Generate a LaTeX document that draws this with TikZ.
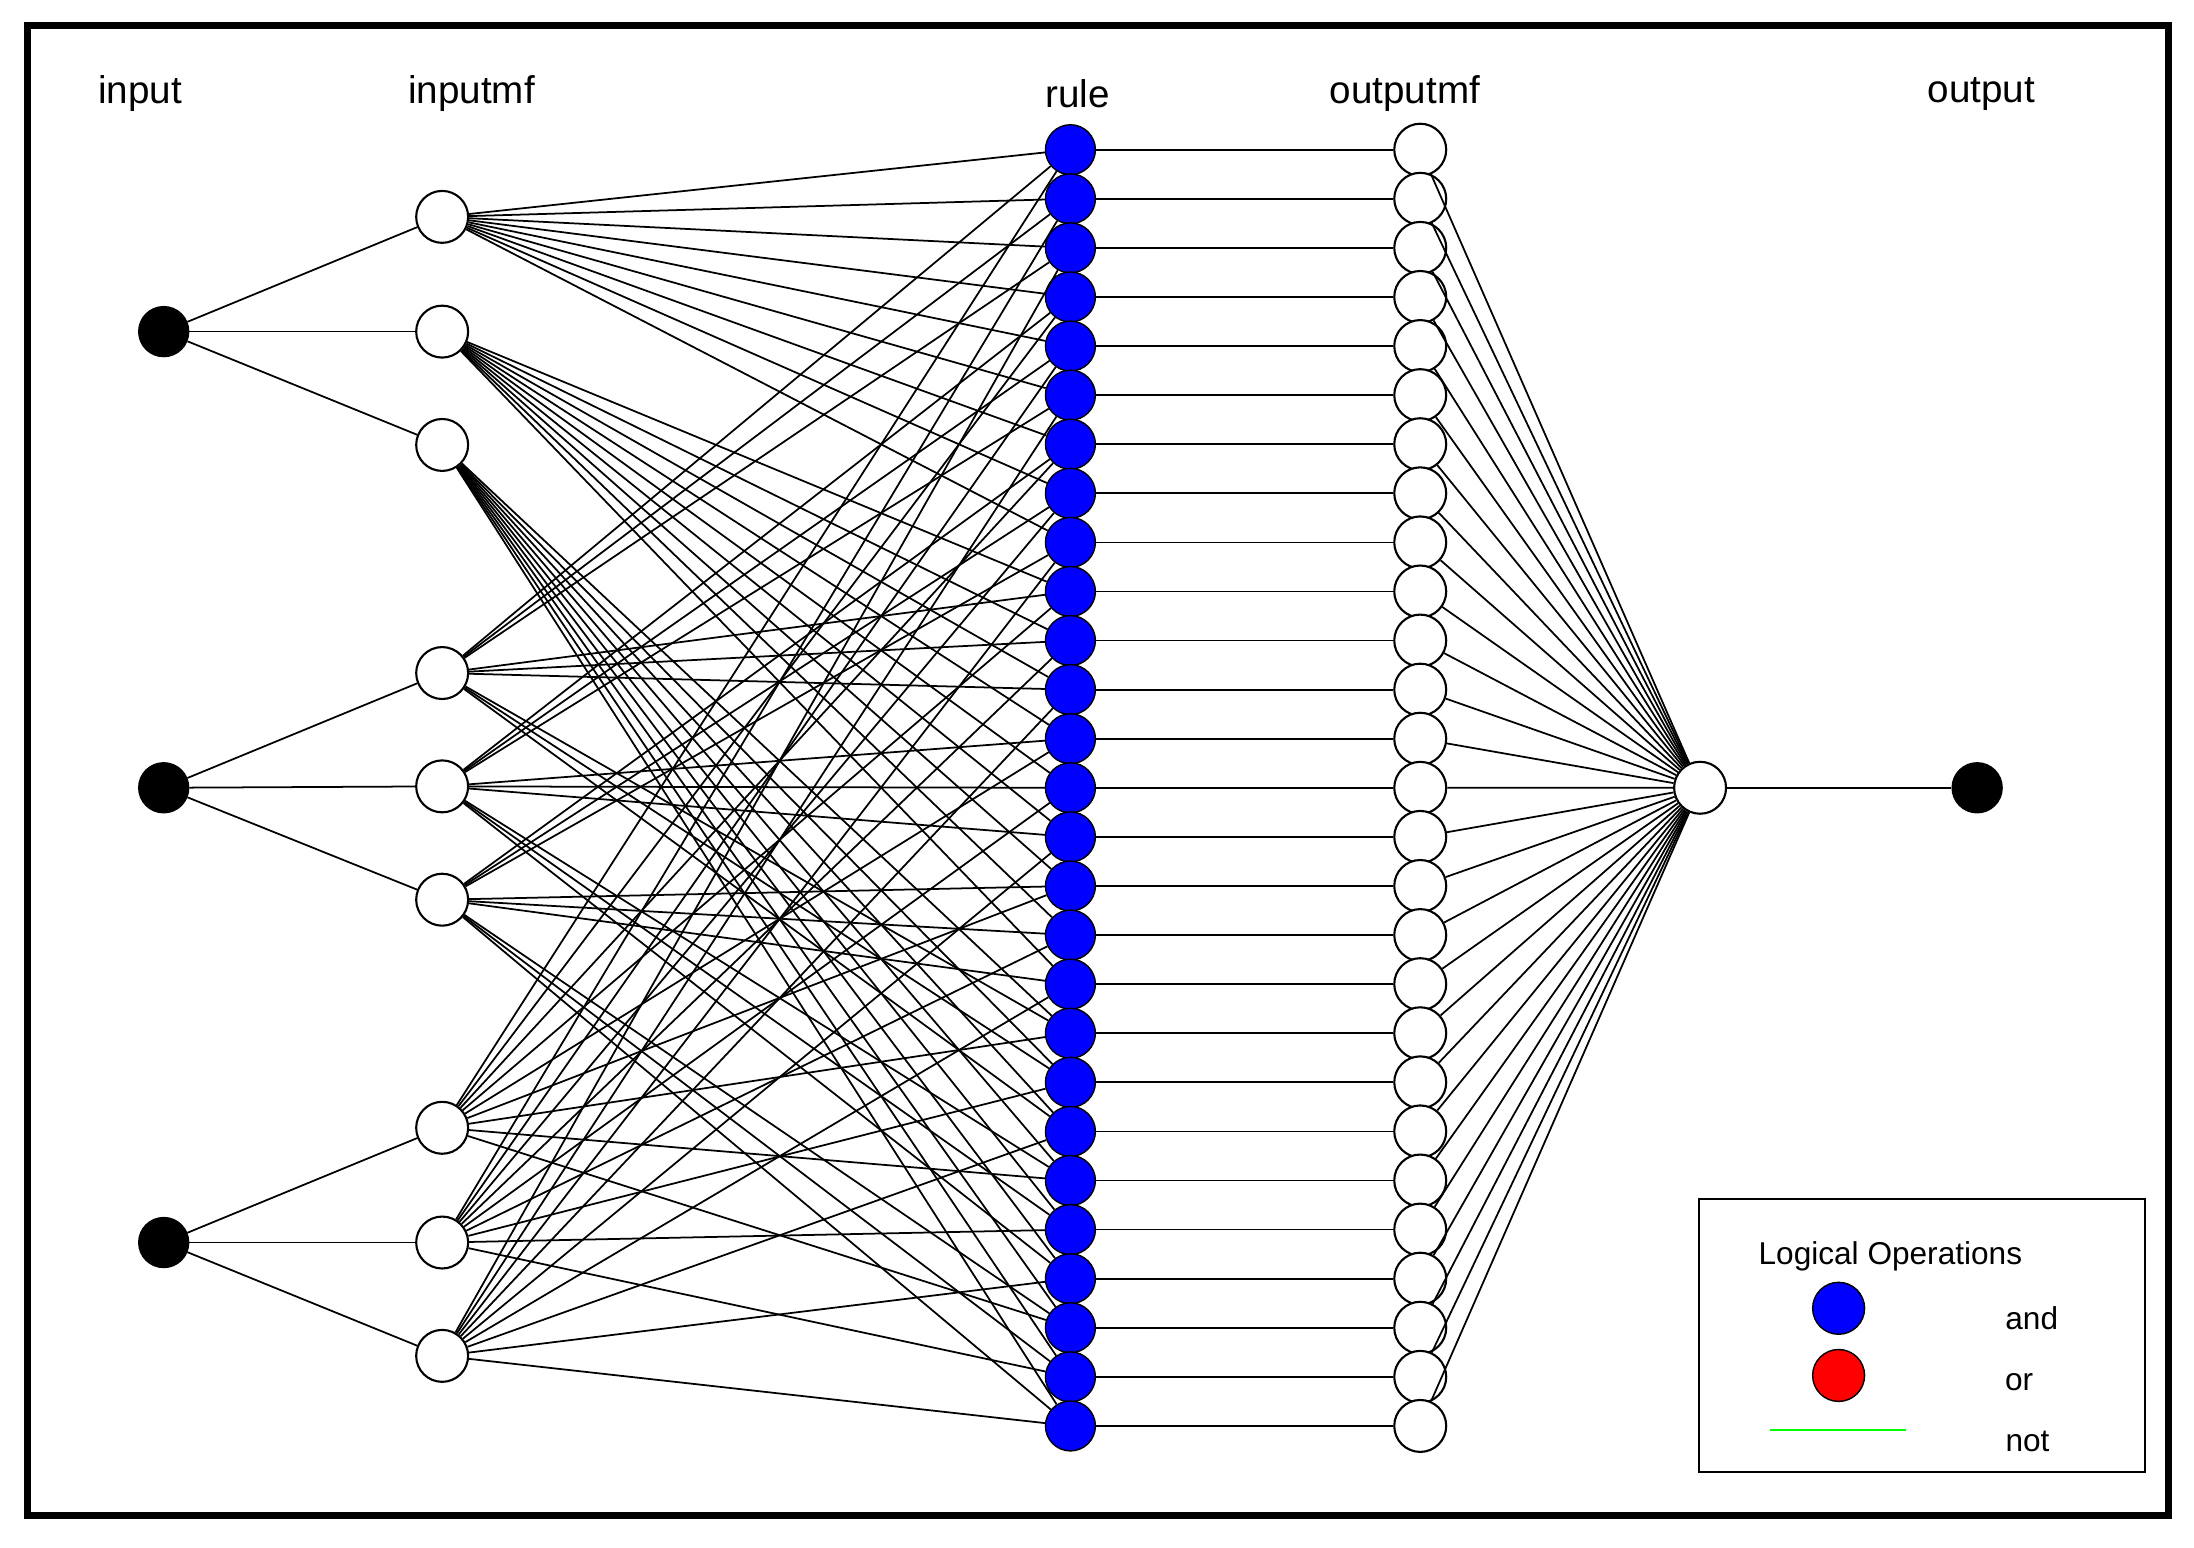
\documentclass[tikz,border=0pt]{standalone}
\usepackage{fontspec}
\setmainfont{Liberation Sans}
\begin{document}
\begin{tikzpicture}[x=0.014cm,y=-0.014cm,
 blk/.style={circle,fill=black,draw=black,minimum size=0.5cm,inner sep=0},
 wht/.style={circle,fill=white,draw=black,line width=0.6pt,minimum size=0.52cm,inner sep=0},
 blu/.style={circle,fill=blue,draw=black,line width=0.4pt,minimum size=0.5cm,inner sep=0},
 lab/.style={font=\fontsize{11}{13}\selectfont},
 leg/.style={font=\fontsize{9}{11}\selectfont},
 ln/.style={line width=0.5pt}]
\useasboundingbox (0,0) rectangle (1568,1106);
\draw[line width=2pt] (20,18) rectangle (1550,1083);
\foreach \i/\y in {1/237,2/563,3/888}{\node[blk] (in\i) at (117,\y) {};}
\foreach \j/\y in {1/155,2/237,3/318,4/481,5/562,6/643,7/806,8/888,9/969}{\node[wht] (mf\j) at (316,\y) {};}
\foreach \k in {0,...,26}{
  \pgfmathsetmacro{\yy}{107+\k*35.08}
  \node[blu] (r\k) at (765,\yy) {};
  \node[wht] (o\k) at (1015,\yy) {};
}
\node[wht] (agg) at (1215,563) {};
\node[blk] (out) at (1413,563) {};
\begin{scope}[on background layer/.try]
\end{scope}
% connections
\foreach \i in {1,2,3}{\foreach \m in {1,2,3}{
  \pgfmathtruncatemacro{\j}{(\i-1)*3+\m}
  \draw[ln] (in\i) -- (mf\j);}}
\foreach \k in {0,...,26}{
  \pgfmathtruncatemacro{\a}{int(\k/9)+1}
  \pgfmathtruncatemacro{\b}{mod(int(\k/3),3)+4}
  \pgfmathtruncatemacro{\c}{mod(\k,3)+7}
  \draw[ln] (mf\a) -- (r\k);
  \draw[ln] (mf\b) -- (r\k);
  \draw[ln] (mf\c) -- (r\k);
  \draw[ln] (r\k) -- (o\k);
  \draw[ln] (o\k) -- (agg);
}
\draw[ln] (agg) -- (out);
\node[lab] at (100,67) {input};
\node[lab] at (337,67) {inputmf};
\node[lab] at (770,67) {rule};
\node[lab] at (1004,67) {outputmf};
\node[lab] at (1416,67) {output};
\draw[line width=0.6pt] (1214,857) rectangle (1533,1052);
\node[leg] at (1351,898) {Logical Operations};
\node[circle,fill=blue,draw=black,minimum size=0.52cm,inner sep=0] at (1314,935) {};
\node[circle,fill=red,draw=black,minimum size=0.52cm,inner sep=0] at (1314,983) {};
\draw[green,line width=0.8pt] (1265,1022) -- (1362,1022);
\node[leg] at (1452,942) {and};
\node[leg] at (1443,988) {or};
\node[leg] at (1449,1030) {not};
\end{tikzpicture}
\end{document}
